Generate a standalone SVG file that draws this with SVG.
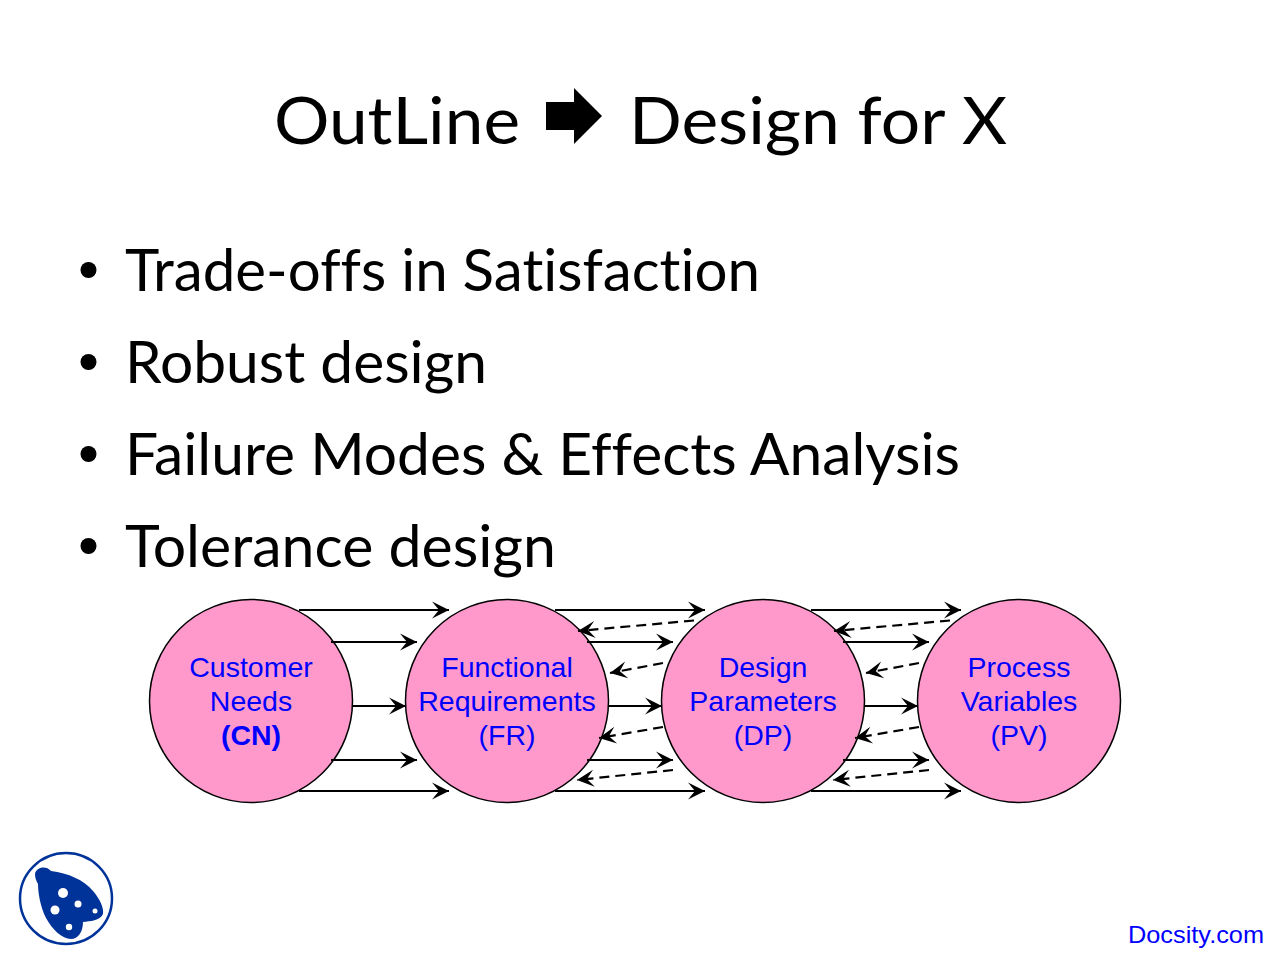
<svg xmlns="http://www.w3.org/2000/svg" width="1280" height="960" viewBox="0 0 1280 960">
<style>
.title{font-family:Lato,Carlito,"Open Sans",sans-serif;font-size:66px;fill:#000;font-variant-ligatures:none}
.bul{font-family:Lato,Carlito,"Open Sans",sans-serif;font-size:59px;fill:#000;font-variant-ligatures:none}
.lab{font-family:"Liberation Sans",Arial,sans-serif;font-size:28.500px;fill:#0000ff;text-anchor:middle}
.node{fill:#ff99cc;stroke:#000;stroke-width:1.500}
.s{stroke:#000;stroke-width:2.200;fill:none;marker-end:url(#a)}
.d{stroke:#000;stroke-width:2.200;fill:none;stroke-dasharray:10 6;marker-end:url(#a)}
</style>
<defs>
<marker id="a" markerUnits="userSpaceOnUse" markerWidth="20" markerHeight="20" refX="17" refY="10" orient="auto" overflow="visible">
<path d="M17 10L0 1.500L7 10L0 18.500Z" fill="#000"/>
</marker>
</defs>
<rect width="1280" height="960" fill="#fff"/>
<g id="title">
<text class="title" x="274" y="144" textLength="246" lengthAdjust="spacingAndGlyphs">OutLine</text>
<polygon points="546,102 574,102 574,88 602,116 574,144 574,130 546,130" fill="#000"/>
<text class="title" x="629" y="144" textLength="378" lengthAdjust="spacingAndGlyphs">Design for X</text>
</g>
<g id="bullets">
<circle cx="88.500" cy="270" r="8" fill="#000"/>
<text class="bul" x="125" y="291" textLength="635" lengthAdjust="spacingAndGlyphs">Trade-offs in Satisfaction</text>
<circle cx="88.500" cy="362" r="8" fill="#000"/>
<text class="bul" x="125" y="383" textLength="362" lengthAdjust="spacingAndGlyphs">Robust design</text>
<circle cx="88.500" cy="454" r="8" fill="#000"/>
<text class="bul" x="125" y="475" textLength="835" lengthAdjust="spacingAndGlyphs">Failure Modes &amp; Effects Analysis</text>
<circle cx="88.500" cy="546" r="8" fill="#000"/>
<text class="bul" x="125" y="567" textLength="431" lengthAdjust="spacingAndGlyphs">Tolerance design</text>
</g>
<g id="cn">
<circle class="node" cx="251" cy="701" r="101.500"/>
<text class="lab" x="251" y="677">Customer</text>
<text class="lab" x="251" y="711">Needs</text>
<text class="lab" x="251" y="745" font-weight="bold">(CN)</text>
</g>
<g id="fr">
<circle class="node" cx="507" cy="701" r="101.500"/>
<text class="lab" x="507" y="677">Functional</text>
<text class="lab" x="507" y="711">Requirements</text>
<text class="lab" x="507" y="745">(FR)</text>
</g>
<g id="dp">
<circle class="node" cx="763" cy="701" r="101.500"/>
<text class="lab" x="763" y="677">Design</text>
<text class="lab" x="763" y="711">Parameters</text>
<text class="lab" x="763" y="745">(DP)</text>
</g>
<g id="pv">
<circle class="node" cx="1019" cy="701" r="101.500"/>
<text class="lab" x="1019" y="677">Process</text>
<text class="lab" x="1019" y="711">Variables</text>
<text class="lab" x="1019" y="745">(PV)</text>
</g>
<g id="connectors">
<path class="s" d="M299 610H449"/><path class="s" d="M331 642H417"/><path class="s" d="M353 706H406"/><path class="s" d="M331 760H417"/><path class="s" d="M299 791H449"/>
<path class="s" d="M555 610H705"/><path class="s" d="M587 642H673"/><path class="s" d="M609 706H662"/><path class="s" d="M587 760H673"/><path class="s" d="M555 791H705"/>
<path class="s" d="M811 610H961"/><path class="s" d="M843 642H929"/><path class="s" d="M865 706H918"/><path class="s" d="M843 760H929"/><path class="s" d="M811 791H961"/>
<path class="d" d="M694 620.500L578 631"/><path class="d" d="M663 663L610 673"/><path class="d" d="M663 727L599 738"/><path class="d" d="M673 770L577 780"/>
<path class="d" d="M950 620.500L834 631"/><path class="d" d="M919 663L866 673"/><path class="d" d="M919 727L855 738"/><path class="d" d="M929 770L833 780"/>
</g>
<g id="logo">
<ellipse cx="66" cy="898.500" rx="46" ry="45.500" fill="none" stroke="#003399" stroke-width="2.500"/>
<path d="M35 874C36 867 46 865 51 871C68 873 84 880 93 891C100 899 104 908 103 914C100 921 90 921 83 922C83 932 78 939 71 939C62 939 52 929 46 918C40 906 38 892 38 884C36 881 35 877 35 874Z" fill="#003399"/>
<circle cx="63" cy="893" r="5" fill="#fff"/><circle cx="78" cy="904" r="3.500" fill="#fff"/><circle cx="55" cy="910" r="4.500" fill="#fff"/><circle cx="95" cy="911" r="2.500" fill="#fff"/><circle cx="69" cy="927" r="3.200" fill="#fff"/>
</g>
<text id="brand" x="1128" y="943" font-family="'Liberation Sans',Arial,sans-serif" font-size="24" fill="#0000ff" textLength="136" lengthAdjust="spacingAndGlyphs">Docsity.com</text>
</svg>
